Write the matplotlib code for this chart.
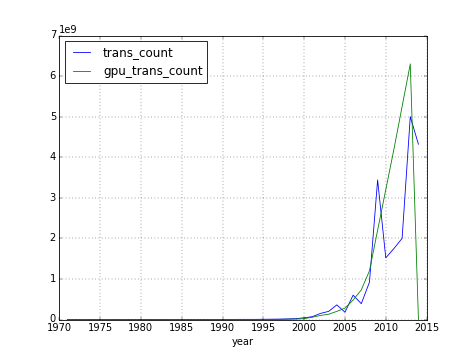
import matplotlib
matplotlib.use("Agg")
import matplotlib.pyplot as plt

plt.style.use("classic")

years = list(range(1971, 2015))

trans_count = [
    2300, 3500, 4500, 6000, 8000, 9000, 10000, 29000, 29000, 40000,
    55000, 134000, 150000, 200000, 275000, 300000, 400000, 550000, 1180000, 1200000,
    1500000, 3100000, 3100000, 3200000, 5500000, 7500000, 9500000, 15000000, 21000000, 42000000,
    70000000, 150000000, 200000000, 360000000, 180000000, 600000000, 390000000, 920000000, 3440000000, 1520000000,
    1750000000, 2000000000, 5000000000, 4320000000,
]

gpu_trans_count = [
    0, 0, 0, 0, 0, 0, 0, 0, 0, 0,
    0, 0, 0, 0, 0, 0, 0, 0, 0, 0,
    0, 0, 0, 0, 1000000, 2000000, 3500000, 7000000, 10000000, 22000000,
    55000000, 100000000, 130000000, 200000000, 280000000, 480000000, 730000000, 1200000000, 2200000000, 3200000000,
    4200000000, 5250000000, 6300000000, 0,
]

fig = plt.figure(figsize=(8, 355 / 59.25), dpi=59.25)
ax = fig.add_subplot(111)
ax.plot(years, trans_count, color="b", label="trans_count")
ax.plot(years, gpu_trans_count, color="g", label="gpu_trans_count")
ax.set_xlim(1970, 2015)
ax.set_ylim(0, 7e9)
ax.ticklabel_format(axis="x", useOffset=False, style="plain")
ax.set_xlabel("year")
ax.grid(True)
ax.legend(loc="upper left")
fig.savefig("out.png", dpi=59.25, facecolor="white")
